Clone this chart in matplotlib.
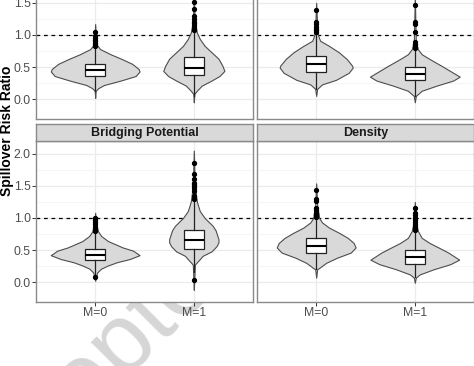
"""Spillover risk ratio: violin + box plots faceted by network measure."""

import matplotlib

matplotlib.use("Agg")
import matplotlib.pyplot as plt
import numpy as np

plt.rcParams["font.family"] = ["Liberation Sans", "DejaVu Sans"]

groups = ["M=0", "M=1"]
strip_titles = ["", "", "Bridging Potential", "Density"]
y_ticks = [0.0, 0.5, 1.0, 1.5, 2.0]

# violin outlines: y values and half widths (data units)
a0_y = [0.02, 0.13, 0.17, 0.22, 0.29, 0.36, 0.43, 0.47, 0.55, 0.625, 0.70, 0.78, 0.85, 1.0, 1.17]
a0_w = [0, 0.005, 0.03, 0.09, 0.26, 0.41, 0.45, 0.44, 0.375, 0.27, 0.155, 0.05, 0.015, 0.006, 0]
a1_y = [-0.05, 0.08, 0.13, 0.21, 0.29, 0.36, 0.44, 0.52, 0.63, 0.73, 0.83, 0.94, 1.04, 1.2, 1.62]
a1_w = [0, 0.005, 0.03, 0.08, 0.18, 0.26, 0.31, 0.29, 0.25, 0.18, 0.11, 0.06, 0.03, 0.01, 0]
b0_y = [0.05, 0.16, 0.23, 0.30, 0.41, 0.49, 0.52, 0.625, 0.73, 0.83, 0.91, 0.99, 1.2, 1.5]
b0_w = [0, 0.01, 0.06, 0.2, 0.33, 0.37, 0.365, 0.31, 0.23, 0.13, 0.04, 0.02, 0.008, 0]
b1_y = [-0.05, 0.05, 0.13, 0.21, 0.29, 0.35, 0.41, 0.52, 0.625, 0.70, 0.78, 0.9, 1.6]
b1_w = [0, 0.01, 0.07, 0.22, 0.39, 0.455, 0.39, 0.27, 0.15, 0.07, 0.03, 0.01, 0]
bp0_y = [0.02, 0.15, 0.21, 0.26, 0.31, 0.36, 0.42, 0.49, 0.54, 0.64, 0.72, 0.79, 0.9, 1.08]
bp0_w = [0, 0.02, 0.06, 0.13, 0.22, 0.35, 0.45, 0.385, 0.28, 0.13, 0.06, 0.03, 0.01, 0]
bp1_y = [-0.12, 0.04, 0.27, 0.29, 0.34, 0.41, 0.48, 0.56, 0.62, 0.67, 0.81, 0.88, 1.0, 1.11, 1.26, 1.5, 2.05]
bp1_w = [0, 0.005, 0.01, 0.02, 0.05, 0.09, 0.18, 0.23, 0.25, 0.25, 0.22, 0.19, 0.11, 0.06, 0.03, 0.01, 0]
d0_y = [0.07, 0.20, 0.22, 0.30, 0.38, 0.46, 0.54, 0.61, 0.69, 0.77, 0.85, 0.93, 1.0, 1.2, 1.54]
d0_w = [0, 0.01, 0.03, 0.1, 0.21, 0.35, 0.40, 0.38, 0.32, 0.23, 0.13, 0.06, 0.03, 0.01, 0]
d1_y = [-0.01, 0.07, 0.12, 0.20, 0.28, 0.35, 0.46, 0.54, 0.61, 0.69, 0.80, 0.95, 1.25]
d1_w = [0, 0.01, 0.05, 0.19, 0.36, 0.45, 0.34, 0.24, 0.15, 0.07, 0.03, 0.01, 0]

# box stats: whislo, q1, median, q3, whishi
a0_box = [0.12, 0.36, 0.45, 0.54, 0.80]
a1_box = [0.05, 0.375, 0.49, 0.65, 1.05]
b0_box = [0.16, 0.43, 0.54, 0.67, 1.0]
b1_box = [0.05, 0.30, 0.39, 0.50, 0.78]
bp0_box = [0.12, 0.34, 0.42, 0.51, 0.77]
bp1_box = [0.15, 0.51, 0.65, 0.81, 1.25]
d0_box = [0.20, 0.46, 0.57, 0.68, 1.0]
d1_box = [0.08, 0.29, 0.39, 0.50, 0.80]

a0_out = [0.83, 0.86, 0.88, 0.90, 0.92, 0.95, 0.98, 1.04]
a1_out = [1.07, 1.10, 1.12, 1.15, 1.18, 1.20, 1.25, 1.30, 1.40, 1.51]
b0_out = [1.04, 1.07, 1.10, 1.13, 1.17, 1.20, 1.39]
b1_out = [0.80, 0.82, 0.84, 0.86, 0.885, 1.05, 1.17, 1.21, 1.47]
bp0_out = [0.08, 0.80, 0.83, 0.86, 0.90, 0.93, 0.97, 1.0]
bp1_out = [0.03, 1.30, 1.35, 1.42, 1.46, 1.50, 1.53, 1.55, 1.60, 1.68, 1.86]
d0_out = [1.02, 1.04, 1.06, 1.08, 1.12, 1.16, 1.26, 1.29, 1.43]
d1_out = [0.82, 0.85, 0.88, 0.91, 0.94, 0.97, 1.0, 1.04, 1.08, 1.16]

panels = [
    [(a0_y, a0_w, a0_box, a0_out), (a1_y, a1_w, a1_box, a1_out)],
    [(b0_y, b0_w, b0_box, b0_out), (b1_y, b1_w, b1_box, b1_out)],
    [(bp0_y, bp0_w, bp0_box, bp0_out), (bp1_y, bp1_w, bp1_box, bp1_out)],
    [(d0_y, d0_w, d0_box, d0_out), (d1_y, d1_w, d1_box, d1_out)],
]

W, H = 474, 366
fig = plt.figure(figsize=(W / 100, H / 100), dpi=100)

# panel boxes in pixels (left, top, width, height); top row is cropped by the figure edge
col_x = [36, 257]
row_top = [-42, 141]
pw, ph = 217, 161
border = "#8a8a8a"


def px_rect(left, top, width, height):
    return [left / W, 1 - (top + height) / H, width / W, height / H]


for i, groups_data in enumerate(panels):
    r, c = divmod(i, 2)
    ax = fig.add_axes(px_rect(col_x[c], row_top[r], pw, ph))
    ax.set_xlim(0.4, 2.6)
    ax.set_ylim(-0.31, 2.2)
    ax.set_yticks(y_ticks)
    ax.set_yticks(np.arange(0.25, 2.2, 0.5), minor=True)
    ax.set_xticks([1, 2])
    ax.grid(True, which="major", color="#ebebeb", lw=0.9, zorder=0)
    ax.grid(True, which="minor", axis="y", color="#f4f4f4", lw=0.6, zorder=0)
    ax.set_axisbelow(True)
    for sp in ax.spines.values():
        sp.set_color(border)
        sp.set_linewidth(1.0)
    ax.tick_params(which="minor", length=0)
    ax.tick_params(which="major", length=2.75, width=0.7, color="#333333",
                   labelcolor="#4d4d4d", labelsize=8.8, pad=1)
    if c == 1:
        ax.tick_params(axis="y", length=0, labelleft=False)
    else:
        ax.set_yticklabels([f"{v:.1f}" for v in y_ticks])
    if r == 0:
        ax.tick_params(axis="x", length=0, labelbottom=False)
    else:
        ax.set_xticklabels(groups)

    ax.axhline(1.0, color="black", lw=0.9, ls=(0, (3, 3)), zorder=1.5)

    for pos, (vy, vw, box, out) in enumerate(groups_data, start=1):
        vy = np.asarray(vy)
        vw = np.asarray(vw)
        ax.fill_betweenx(vy, pos - vw, pos + vw, facecolor="#d9d9d9",
                         edgecolor="#4d4d4d", lw=0.8, zorder=2)
        stats = [{"whislo": box[0], "q1": box[1], "med": box[2], "q3": box[3],
                  "whishi": box[4], "fliers": out}]
        ax.bxp(stats, positions=[pos], widths=0.2, patch_artist=True,
               showcaps=False, manage_ticks=False,
               boxprops=dict(facecolor="white", edgecolor="#222222", lw=0.9),
               medianprops=dict(color="black", lw=1.5),
               whiskerprops=dict(color="#222222", lw=0.9),
               flierprops=dict(marker="o", markerfacecolor="black",
                               markeredgecolor="black", markersize=2.8),
               zorder=3)

    # facet strip
    sax = fig.add_axes(px_rect(col_x[c], row_top[r] - 17, pw, 17))
    sax.set_xticks([])
    sax.set_yticks([])
    sax.set_facecolor("#d9d9d9")
    for sp in sax.spines.values():
        sp.set_color(border)
        sp.set_linewidth(1.0)
    sax.text(0.5, 0.45, strip_titles[i], ha="center", va="center",
             fontsize=9, fontweight="bold", color="#1a1a1a", transform=sax.transAxes)

fig.text(7 / W, 1 - 131 / H, "Spillover Risk Ratio", rotation=90, ha="center",
         va="center", fontsize=10, fontweight="bold", color="black")

# faint watermark sitting behind the panels, anchored at its left baseline
fig.text(-29 / W, 1 - 535 / H, "Accepted", rotation=45, rotation_mode="anchor",
         ha="left", va="baseline", fontsize=70, color="#d6d6d6", zorder=-1)

fig.savefig("out.png", dpi=100)
